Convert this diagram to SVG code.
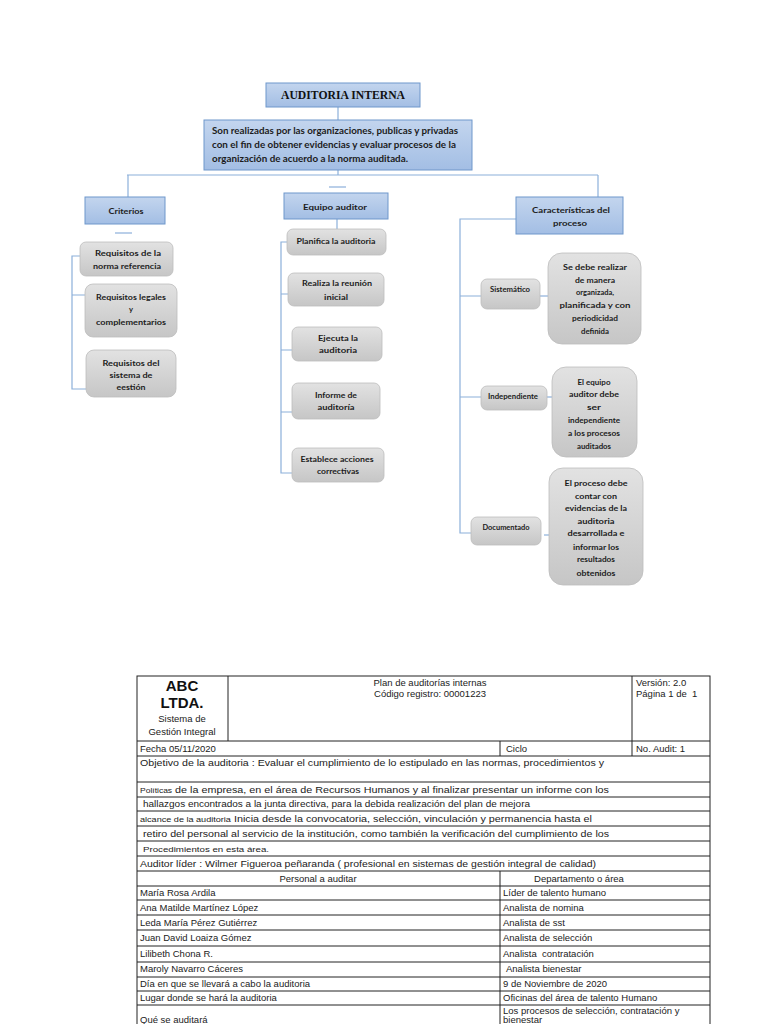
<svg xmlns="http://www.w3.org/2000/svg" width="768" height="1024" viewBox="0 0 768 1024">
<defs>
<linearGradient id="gBlue" x1="0" y1="0" x2="0" y2="1"><stop offset="0" stop-color="#c3d5ee"/><stop offset="1" stop-color="#a3bee4"/></linearGradient>
<linearGradient id="gGray" x1="0" y1="0" x2="0" y2="1"><stop offset="0" stop-color="#e2e2e2"/><stop offset="1" stop-color="#c6c6c6"/></linearGradient>
<style>
.blue{fill:url(#gBlue);stroke:#6f97cb;stroke-width:1}
.gray{fill:url(#gGray);stroke:#bcbcbc;stroke-width:0.8}
.con{stroke:#8cb0da;stroke-width:1.2;fill:none}
.nt{font-family:Lato,"Liberation Sans",sans-serif;font-weight:bold;font-size:7.6px;fill:#1c1c1c;text-anchor:middle}
.dt{font-family:Lato,"Liberation Sans",sans-serif;font-weight:bold;font-size:9.5px;fill:#1c1c1c}
.tt{font-family:"Liberation Sans",Arial,sans-serif;font-size:9.5px;fill:#222}
.ts{font-family:"Liberation Sans",Arial,sans-serif;font-size:8px;fill:#222}
.grid{stroke:#222;stroke-width:1;fill:none}
</style>
</defs>
<rect width="768" height="1024" fill="#ffffff"/>

<g id="connectors">
<line class="con" x1="338" y1="107" x2="338" y2="120"/>
<line class="con" x1="338" y1="170" x2="338" y2="175"/>
<line class="con" x1="127" y1="175" x2="598" y2="175"/>
<line class="con" x1="128" y1="175" x2="128" y2="197"/>
<line class="con" x1="598" y1="175" x2="598" y2="197"/>
<line class="con" x1="329" y1="187" x2="346" y2="187"/>
<line class="con" x1="115" y1="233" x2="132" y2="233"/>
<path class="con" d="M80 256 H72 V389 H86 M72 295 H85"/>
<line class="con" x1="337" y1="219" x2="337" y2="229"/>
<path class="con" d="M287 242 H281 V473 H292 M281 294 H288 M281 350 H292 M281 412 H292"/>
<path class="con" d="M516 219 H460 V533 H471 M460 296 H481 M460 397 H481"/>
<line class="con" x1="540" y1="296" x2="548" y2="296"/>
<line class="con" x1="547" y1="397" x2="552" y2="397"/>
<line class="con" x1="544" y1="535" x2="549" y2="535"/>
</g>

<g id="n-auditoria">
<rect class="blue" x="266" y="83" width="154" height="24"/>
<text x="343" y="99" text-anchor="middle" font-family="'Liberation Serif',serif" font-weight="bold" font-size="12" fill="#111" textLength="124" lengthAdjust="spacingAndGlyphs">AUDITORIA INTERNA</text>
</g>
<g id="n-desc">
<rect class="blue" x="204" y="120" width="268" height="50"/>
<text class="dt" x="212" y="133.5" textLength="246" lengthAdjust="spacingAndGlyphs">Son realizadas por las organizaciones, publicas y privadas</text>
<text class="dt" x="212" y="148" textLength="244" lengthAdjust="spacingAndGlyphs">con el fin de obtener evidencias y evaluar procesos de la</text>
<text class="dt" x="212" y="162" textLength="196" lengthAdjust="spacingAndGlyphs">organización de acuerdo a la norma auditada.</text>
</g>

<g id="n-criterios">
<rect class="blue" x="85" y="197" width="80" height="27"/>
<text class="nt" x="126" y="214" textLength="35" lengthAdjust="spacingAndGlyphs">Criterios</text>
</g>
<g id="n-req1">
<rect class="gray" x="80" y="242" width="93" height="34" rx="6"/>
<text class="nt" x="128" y="256" textLength="66" lengthAdjust="spacingAndGlyphs">Requisitos de la</text>
<text class="nt" x="127" y="269" textLength="68" lengthAdjust="spacingAndGlyphs">norma referencia</text>
</g>
<g id="n-req2">
<rect class="gray" x="85" y="284" width="92" height="53" rx="8"/>
<text class="nt" x="131" y="300" textLength="70" lengthAdjust="spacingAndGlyphs">Requisitos legales</text>
<text class="nt" x="131" y="312">y</text>
<text class="nt" x="131" y="325" textLength="70" lengthAdjust="spacingAndGlyphs">complementarios</text>
</g>
<g id="n-req3">
<rect class="gray" x="86" y="350" width="90" height="47" rx="8"/>
<text class="nt" x="131" y="366" textLength="57" lengthAdjust="spacingAndGlyphs">Requisitos del</text>
<text class="nt" x="131" y="378" textLength="43" lengthAdjust="spacingAndGlyphs">sistema de</text>
<text class="nt" x="131" y="390" textLength="29" lengthAdjust="spacingAndGlyphs">eestión</text>
</g>

<g id="n-equipo">
<rect class="blue" x="284" y="193" width="104" height="26"/>
<text class="nt" x="335" y="210" textLength="64" lengthAdjust="spacingAndGlyphs">Equipo auditor</text>
</g>
<g id="n-planifica">
<rect class="gray" x="287" y="229" width="99" height="26" rx="6"/>
<text class="nt" x="336" y="244" textLength="79" lengthAdjust="spacingAndGlyphs">Planifica la auditoria</text>
</g>
<g id="n-realiza">
<rect class="gray" x="288" y="273" width="96" height="33" rx="6"/>
<text class="nt" x="337" y="286" textLength="70" lengthAdjust="spacingAndGlyphs">Realiza la reunión</text>
<text class="nt" x="336" y="300" textLength="24" lengthAdjust="spacingAndGlyphs">inicial</text>
</g>
<g id="n-ejecuta">
<rect class="gray" x="292" y="327" width="90" height="34" rx="6"/>
<text class="nt" x="338" y="341" textLength="40" lengthAdjust="spacingAndGlyphs">Ejecuta la</text>
<text class="nt" x="338" y="353" textLength="38" lengthAdjust="spacingAndGlyphs">auditoria</text>
</g>
<g id="n-informe">
<rect class="gray" x="292" y="383" width="88" height="36" rx="6"/>
<text class="nt" x="336" y="398" textLength="42" lengthAdjust="spacingAndGlyphs">Informe de</text>
<text class="nt" x="336" y="410" textLength="37" lengthAdjust="spacingAndGlyphs">auditoría</text>
</g>
<g id="n-establece">
<rect class="gray" x="292" y="448" width="92" height="34" rx="6"/>
<text class="nt" x="337" y="462" textLength="73" lengthAdjust="spacingAndGlyphs">Establece acciones</text>
<text class="nt" x="338" y="474" textLength="42" lengthAdjust="spacingAndGlyphs">correctivas</text>
</g>

<g id="n-caract">
<rect class="blue" x="516" y="197" width="107" height="37"/>
<text class="nt" x="571" y="213" textLength="78" lengthAdjust="spacingAndGlyphs">Características del</text>
<text class="nt" x="570" y="226" textLength="34" lengthAdjust="spacingAndGlyphs">proceso</text>
</g>
<g id="n-sistematico">
<rect class="gray" x="481" y="279" width="59" height="30" rx="6"/>
<text class="nt" x="510" y="292" font-size="7" textLength="40" lengthAdjust="spacingAndGlyphs">Sistemático</text>
</g>
<g id="n-sist-desc">
<rect class="gray" x="548" y="253" width="93" height="91" rx="14"/>
<text class="nt" x="595" y="270" textLength="64" lengthAdjust="spacingAndGlyphs">Se debe realizar</text>
<text class="nt" x="595" y="283" textLength="40" lengthAdjust="spacingAndGlyphs">de manera</text>
<text class="nt" x="595" y="295" textLength="38" lengthAdjust="spacingAndGlyphs">organizada,</text>
<text class="nt" x="595" y="308" textLength="71" lengthAdjust="spacingAndGlyphs">planificada y con</text>
<text class="nt" x="595" y="321" textLength="46" lengthAdjust="spacingAndGlyphs">periodicidad</text>
<text class="nt" x="595" y="334" textLength="28" lengthAdjust="spacingAndGlyphs">definida</text>
</g>
<g id="n-independiente">
<rect class="gray" x="481" y="386" width="66" height="24" rx="6"/>
<text class="nt" x="513" y="399" font-size="7" textLength="50" lengthAdjust="spacingAndGlyphs">Independiente</text>
</g>
<g id="n-ind-desc">
<rect class="gray" x="552" y="367" width="85" height="90" rx="14"/>
<text class="nt" x="594" y="385" textLength="33" lengthAdjust="spacingAndGlyphs">El equipo</text>
<text class="nt" x="594" y="397" textLength="50" lengthAdjust="spacingAndGlyphs">auditor debe</text>
<text class="nt" x="594" y="410" textLength="14" lengthAdjust="spacingAndGlyphs">ser</text>
<text class="nt" x="594" y="423" textLength="52" lengthAdjust="spacingAndGlyphs">independiente</text>
<text class="nt" x="594" y="436" textLength="52" lengthAdjust="spacingAndGlyphs">a los procesos</text>
<text class="nt" x="594" y="449" textLength="34" lengthAdjust="spacingAndGlyphs">auditados</text>
</g>
<g id="n-documentado">
<rect class="gray" x="471" y="517" width="70" height="28" rx="6"/>
<text class="nt" x="506" y="530" font-size="7" textLength="47" lengthAdjust="spacingAndGlyphs">Documentado</text>
</g>
<g id="n-doc-desc">
<rect class="gray" x="549" y="468" width="94" height="117" rx="14"/>
<text class="nt" x="596" y="486" textLength="63" lengthAdjust="spacingAndGlyphs">El proceso debe</text>
<text class="nt" x="596" y="499" textLength="42" lengthAdjust="spacingAndGlyphs">contar con</text>
<text class="nt" x="596" y="511" textLength="62" lengthAdjust="spacingAndGlyphs">evidencias de la</text>
<text class="nt" x="596" y="524" textLength="37" lengthAdjust="spacingAndGlyphs">auditoria</text>
<text class="nt" x="596" y="536" textLength="57" lengthAdjust="spacingAndGlyphs">desarrollada e</text>
<text class="nt" x="596" y="550" textLength="46" lengthAdjust="spacingAndGlyphs">informar los</text>
<text class="nt" x="596" y="562" textLength="38" lengthAdjust="spacingAndGlyphs">resultados</text>
<text class="nt" x="596" y="576" textLength="39" lengthAdjust="spacingAndGlyphs">obtenidos</text>
</g>

<g id="table">
<rect class="grid" x="137" y="676" width="573" height="360"/>
<line class="grid" x1="228" y1="676" x2="228" y2="741"/>
<line class="grid" x1="632" y1="676" x2="632" y2="756"/>
<line class="grid" x1="500" y1="741" x2="500" y2="756"/>
<line class="grid" x1="500" y1="871" x2="500" y2="1036"/>
<line class="grid" x1="137" y1="741" x2="710" y2="741"/>
<line class="grid" x1="137" y1="756" x2="710" y2="756"/>
<line class="grid" x1="137" y1="782" x2="710" y2="782"/>
<line class="grid" x1="137" y1="797" x2="710" y2="797"/>
<line class="grid" x1="137" y1="811" x2="710" y2="811"/>
<line class="grid" x1="137" y1="826" x2="710" y2="826"/>
<line class="grid" x1="137" y1="841" x2="710" y2="841"/>
<line class="grid" x1="137" y1="856" x2="710" y2="856"/>
<line class="grid" x1="137" y1="871" x2="710" y2="871"/>
<line class="grid" x1="137" y1="886" x2="710" y2="886"/>
<line class="grid" x1="137" y1="900" x2="710" y2="900"/>
<line class="grid" x1="137" y1="915" x2="710" y2="915"/>
<line class="grid" x1="137" y1="930" x2="710" y2="930"/>
<line class="grid" x1="137" y1="946" x2="710" y2="946"/>
<line class="grid" x1="137" y1="962" x2="710" y2="962"/>
<line class="grid" x1="137" y1="977" x2="710" y2="977"/>
<line class="grid" x1="137" y1="991" x2="710" y2="991"/>
<line class="grid" x1="137" y1="1005" x2="710" y2="1005"/>

<text x="182" y="691" text-anchor="middle" font-family="'Liberation Sans',Arial,sans-serif" font-weight="bold" font-size="15" fill="#111">ABC</text>
<text x="182" y="708" text-anchor="middle" font-family="'Liberation Sans',Arial,sans-serif" font-weight="bold" font-size="15" fill="#111">LTDA.</text>
<text class="tt" x="182" y="722" text-anchor="middle">Sistema de</text>
<text class="tt" x="182" y="735" text-anchor="middle">Gestión Integral</text>
<text class="tt" x="430" y="686" text-anchor="middle">Plan de auditorías internas</text>
<text class="tt" x="430" y="697" text-anchor="middle">Código registro: 00001223</text>
<text class="tt" x="636" y="686">Versión: 2.0</text>
<text class="tt" x="636" y="697" xml:space="preserve">Página 1 de  1</text>

<text class="tt" x="140" y="752">Fecha 05/11/2020</text>
<text class="tt" x="506" y="752">Ciclo</text>
<text class="tt" x="636" y="752">No. Audit: 1</text>
<text class="tt" x="140" y="766" textLength="464" lengthAdjust="spacingAndGlyphs">Objetivo de la auditoria : Evaluar el cumplimiento de lo estipulado en las normas, procedimientos y</text>
<text class="tt" x="140" y="793" textLength="469" lengthAdjust="spacingAndGlyphs"><tspan font-size="7.5">Políticas</tspan> de la empresa, en el área de Recursos Humanos y al finalizar presentar un informe con los</text>
<text class="tt" x="143" y="807" textLength="387" lengthAdjust="spacingAndGlyphs">hallazgos encontrados a la junta directiva, para la debida realización del plan de mejora</text>
<text class="tt" x="140" y="822" textLength="452" lengthAdjust="spacingAndGlyphs"><tspan font-size="8">alcance de la auditoria</tspan> Inicia desde la convocatoria, selección, vinculación y permanencia hasta el</text>
<text class="tt" x="143" y="837" textLength="466" lengthAdjust="spacingAndGlyphs">retiro del personal al servicio de la institución, como también la verificación del cumplimiento de los</text>
<text class="ts" x="143" y="852" textLength="126" lengthAdjust="spacingAndGlyphs">Procedimientos en esta área.</text>
<text class="tt" x="140" y="867" textLength="456" lengthAdjust="spacingAndGlyphs">Auditor líder : Wilmer Figueroa peñaranda ( profesional en sistemas de gestión integral de calidad)</text>
<text class="tt" x="318" y="882" text-anchor="middle">Personal a auditar</text>
<text class="tt" x="579" y="882" text-anchor="middle">Departamento o área</text>
<text class="tt" x="140" y="896">María Rosa Ardila</text>
<text class="tt" x="503" y="896">Líder de talento humano</text>
<text class="tt" x="140" y="911">Ana Matilde Martínez López</text>
<text class="tt" x="503" y="911">Analista de nomina</text>
<text class="tt" x="140" y="926">Leda María Pérez Gutiérrez</text>
<text class="tt" x="503" y="926">Analista de sst</text>
<text class="tt" x="140" y="941">Juan David Loaiza Gómez</text>
<text class="tt" x="503" y="941">Analista de selección</text>
<text class="tt" x="140" y="957">Lilibeth Chona R.</text>
<text class="tt" x="503" y="957" xml:space="preserve">Analista  contratación</text>
<text class="tt" x="140" y="972">Maroly Navarro Cáceres</text>
<text class="tt" x="506" y="972">Analista bienestar</text>
<text class="tt" x="140" y="987">Día en que se llevará a cabo la auditoria</text>
<text class="tt" x="503" y="987">9 de Noviembre de 2020</text>
<text class="tt" x="140" y="1001">Lugar donde se hará la auditoria</text>
<text class="tt" x="503" y="1001">Oficinas del área de talento Humano</text>
<text class="tt" x="503" y="1014">Los procesos de selección, contratación y</text>
<text class="tt" x="503" y="1023">bienestar</text>
<text class="tt" x="140" y="1023">Qué se auditará</text>
</g>
</svg>
